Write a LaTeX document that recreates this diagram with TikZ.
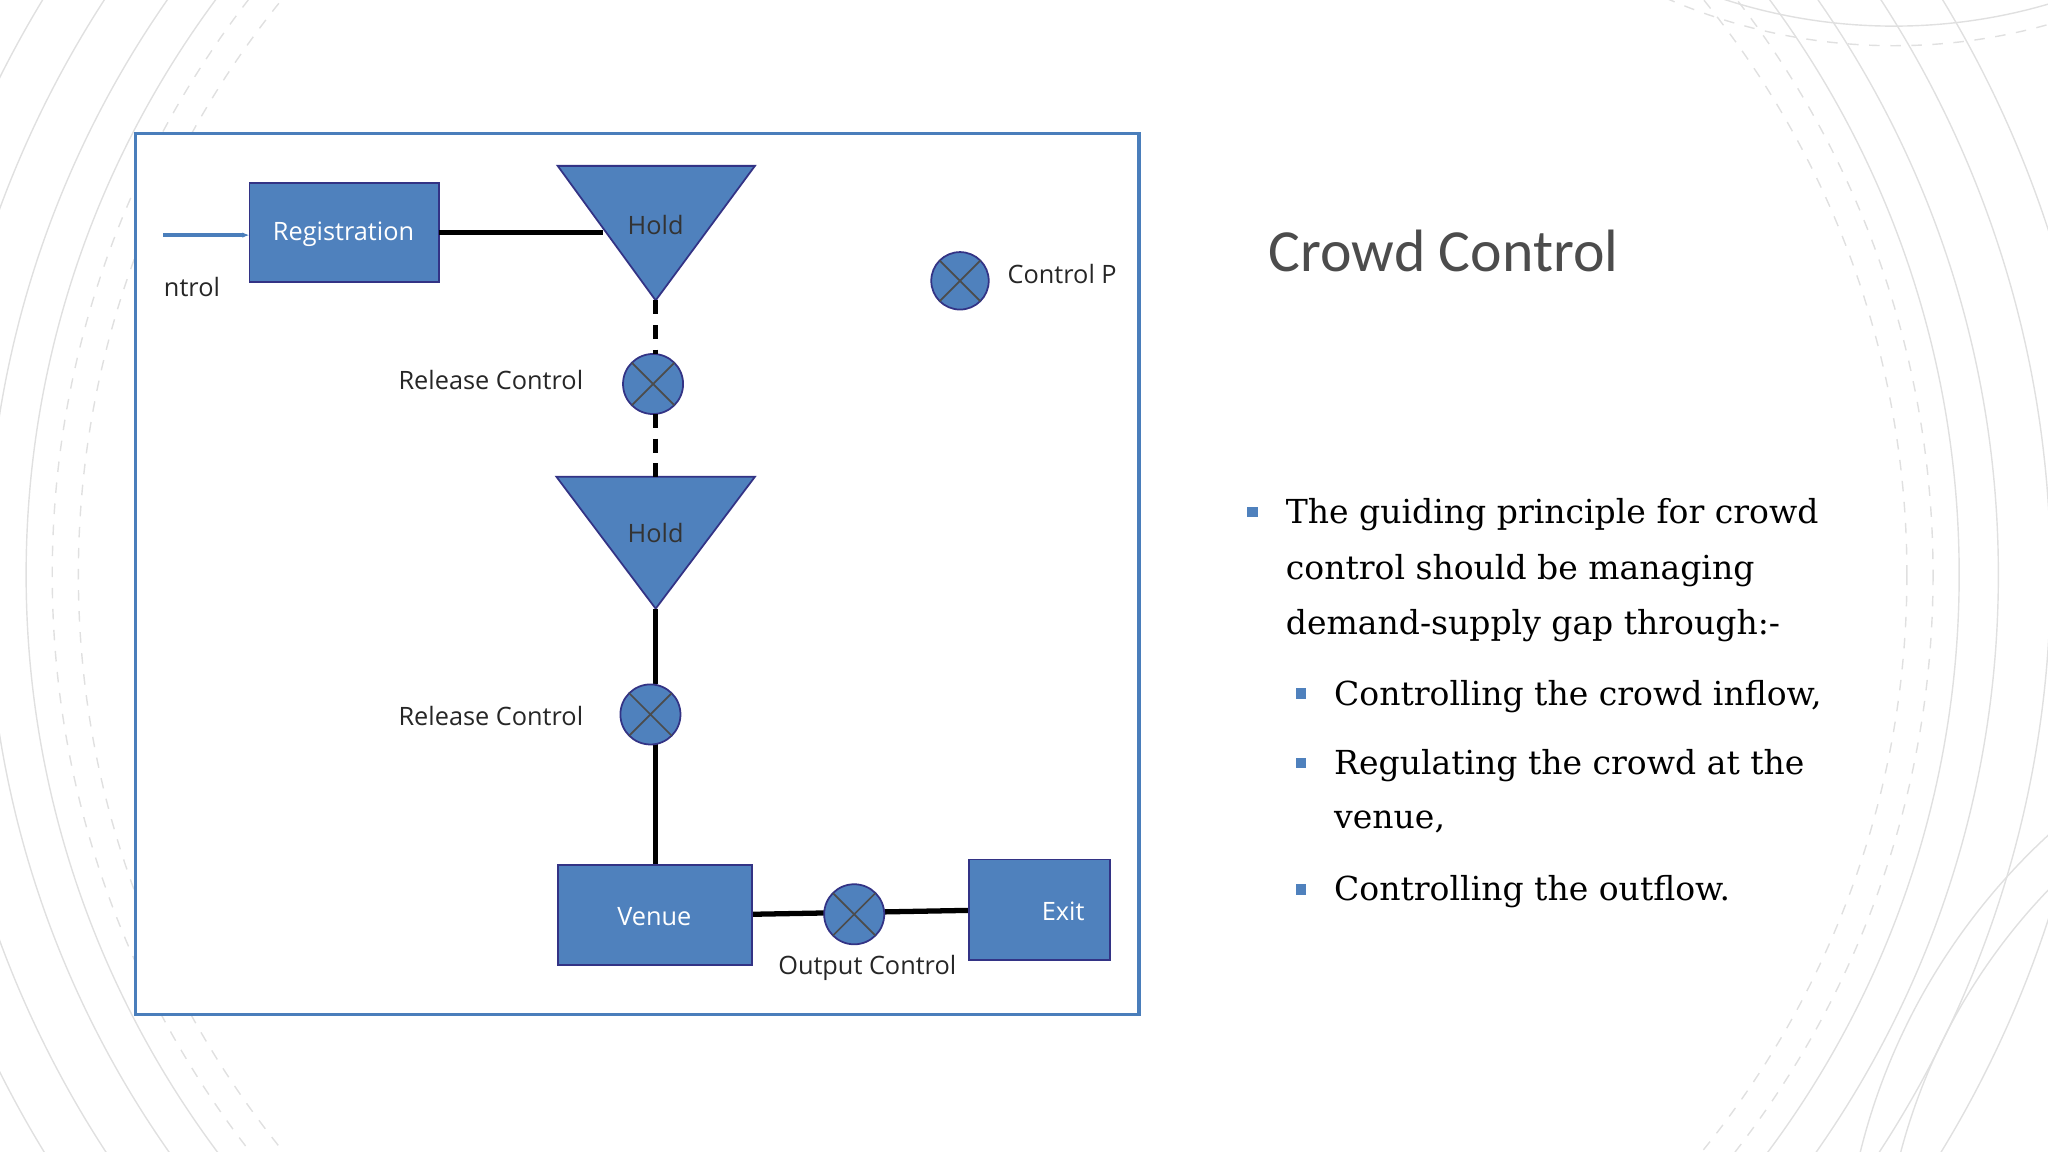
\documentclass[tikz,border=0pt]{standalone}
\usepackage{fontspec}
\usetikzlibrary{arrows.meta}
\setmainfont{DejaVu Serif}
\newfontfamily\diag{Open Sans}
\newfontfamily\ttl{Carlito}
\begin{document}
\begin{tikzpicture}[x=0.013061cm,y=-0.013061cm,
  bluebox/.style={draw=blue!40!black!80,fill=boxblue,line width=0.5pt},
  lbl/.style={font=\diag\fontsize{7.2}{8.6}\selectfont,text=black!85},
  wlbl/.style={font=\diag\fontsize{7.2}{8.6}\selectfont,text=white},
  conn/.style={line width=1.5pt,black},
  xline/.style={black!70,line width=0.5pt},
  arc/.style={draw=black!12,line width=0.4pt}]
\definecolor{boxblue}{HTML}{4F81BD}
\definecolor{frameblue}{HTML}{4A7EBB}
\useasboundingbox (0,0) rectangle (1568,882);
% background arcs
\begin{scope}
\clip (0,0) rectangle (1568,882);
\foreach \r in {740,770,810,850} \draw[arc] (760,440) circle (\r);
\foreach \r in {700,720} \draw[arc,dashed] (760,440) circle (\r);
\foreach \r in {460,490} \draw[arc] (1900,1000) circle (\r);
\foreach \r in {420} \draw[arc] (1450,-400) circle (\r);
\draw[arc,dashed] (1450,-400) circle (435);
\end{scope}
% frame
\fill[white] (104,102) rectangle (872,777);
\draw[frameblue,line width=0.9pt] (104,102) rectangle (872,777);
% registration
\draw[bluebox] (191,140) rectangle (336,216);
\node[wlbl] at (263,179) {Registration};
\coordinate (reg) at (336,178);
\coordinate (in) at (125,180);
\coordinate (regw) at (191,180);
\draw[frameblue,line width=1.3pt,-{Latex[length=2pt]}] (in) -- (regw);
\node[lbl,anchor=west,inner sep=0pt] at (125,220) {ntrol};
% hold 1
\draw[bluebox] (427,127) -- (578,127) -- (502,230) coordinate (h1) -- cycle;
\node[wlbl,text=black!80] at (502,172) {Hold};
\coordinate (h1w) at (462,178);
\draw[conn] (reg) -- (h1w);
% release 1
\draw[bluebox] (500,294) circle (23);
\draw[xline] (500,294) ++(45:23) -- ++(225:46) (500,294) ++(135:23) -- ++(-45:46);
\node[lbl,anchor=east] at (456,291) {Release Control};
% hold 2
\draw[bluebox] (426,365) -- (578,365) -- (502,466) coordinate (h2) -- cycle;
\node[wlbl,text=black!80] at (502,408) {Hold};
\draw[conn,dash pattern=on 4pt off 3pt] (h1) -- (502,271);
\draw[conn,dash pattern=on 4pt off 3pt] (502,317) -- (502,365);
\draw[conn] (h2) -- (502,524);
\draw[conn] (502,570) -- (502,662);
% release 2
\draw[bluebox] (498,547) circle (23);
\draw[xline] (498,547) ++(45:23) -- ++(225:46) (498,547) ++(135:23) -- ++(-45:46);
\node[lbl,anchor=east] at (456,548) {Release Control};
% control point
\draw[bluebox] (735,215) circle (22);
\draw[xline] (735,215) ++(45:22) -- ++(225:44) (735,215) ++(135:22) -- ++(-45:44);
\node[lbl,anchor=west] at (762,210) {Control P};
% venue / exit
\draw[conn] (576,700) -- (742,697);
\draw[bluebox] (427,662) rectangle (576,739);
\node[wlbl] at (501,702) {Venue};
\draw[bluebox] (742,658) rectangle (850,735);
\node[wlbl] at (814,698) {Exit};
\draw[bluebox] (654,700) circle (23);
\draw[xline] (654,700) ++(45:23) -- ++(225:46) (654,700) ++(135:23) -- ++(-45:46);
\node[lbl] at (664,741) {Output Control};
% text
\node[anchor=west,font=\ttl\fontsize{17}{20}\selectfont,text=black!70] at (962,192) {Crowd Control};
\begin{scope}[every node/.style={anchor=west,font=\fontsize{9.4}{12}\selectfont,text=black}]
\fill[boxblue] (955,388) rectangle +(8,8);
\node at (975,394) {The guiding principle for crowd};
\node at (975,437) {control should be managing};
\node at (975,479) {demand-supply gap through:-};
\fill[boxblue] (992,527) rectangle +(8,8);
\node at (1012,533) {Controlling the crowd inflow,};
\fill[boxblue] (992,580) rectangle +(8,8);
\node at (1012,586) {Regulating the crowd at the};
\node at (1012,629) {venue,};
\fill[boxblue] (992,677) rectangle +(8,8);
\node at (1012,683) {Controlling the outflow.};
\end{scope}
\end{tikzpicture}
\end{document}
